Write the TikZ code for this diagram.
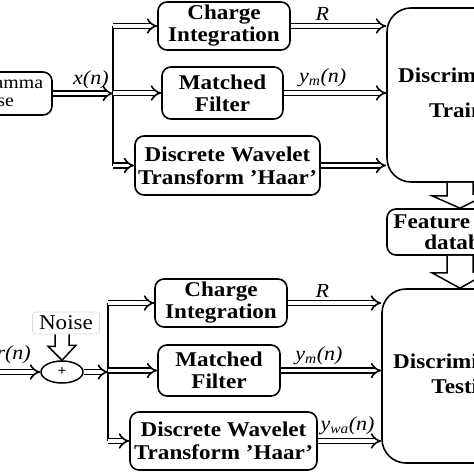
\documentclass[tikz,border=0pt]{standalone}
\usepackage{fontspec}
\setmainfont{Liberation Serif}[FakeStretch=1.1]
\usepackage{tikz}
\usetikzlibrary{positioning, calc, arrows.meta, shapes.geometric}

\tikzset{
    blk/.style={draw, line width=1.6pt, rounded corners=9pt, align=center, inner sep=0pt, font=\fontsize{21}{22}\selectfont\bfseries},
    bigblk/.style={blk, rounded corners=24pt},
    dbl/.style={double, double distance=3.6pt, line width=1.6pt, -{Implies[length=7pt, width=15pt]}},
    lbl/.style={inner sep=1pt, font=\fontsize{20}{22}\selectfont\itshape},
    bus/.style={line width=1.8pt},
    fat/.style={line width=1.5pt, fill=white, line join=miter},
}

\begin{document}
\begin{tikzpicture}[x=1pt, y=-1pt]
    \useasboundingbox (0,0) rectangle (474,474);
    \clip (0,0) rectangle (474,474);

    % upper chain: training
    \node[blk, font=\fontsize{18}{18}\selectfont, minimum width=152pt, minimum height=43pt] (src) at (-24,93.5) {Neutron-Gamma\\Response};
    \node[blk, minimum width=132pt, minimum height=48pt] (ci1) at (224,26) {Charge\\Integration};
    \node[blk, minimum width=121pt, minimum height=52pt] (mf1) at (222.5,93) {Matched\\Filter};
    \node[blk, minimum width=185pt, minimum height=59pt, font=\fontsize{21}{23}\selectfont\bfseries] (dwt1) at (227.5,165.5) {Discrete Wavelet\\Transform 'Haar'};
    \node[bigblk, minimum width=170pt, minimum height=174pt, font=\fontsize{21}{35}\selectfont\bfseries] (train) at (472,95) {Discrimination\\Training};
    \node[blk, minimum width=162pt, minimum height=46pt, font=\fontsize{21}{21}\selectfont\bfseries] (feat) at (468,232) {Feature matrix\\database};

    \coordinate (j1) at (113,93.5);
    \draw[dbl] (src.east |- j1) -- (j1) node[lbl, midway, above=3pt, xshift=8pt] {x(n)};
    \draw[bus] (j1 |- ci1) -- (j1 |- dwt1);
    \draw[dbl] (j1 |- ci1) -- (ci1.west);
    \draw[dbl] (j1 |- mf1) -- (mf1.west);
    \draw[dbl] (j1 |- dwt1) -- (dwt1.west);

    \draw[dbl] (ci1.east) -- (ci1.east -| train.west) node[lbl, pos=0.33, above=4pt] {R};
    \draw[dbl] (mf1.east) -- (mf1.east -| train.west) node[lbl, pos=0.38, above=4pt] {y\textsubscript{m}(n)};
    \draw[dbl] (dwt1.east) -- (dwt1.east -| train.west);

    % hollow arrows down the right column
    \draw[fat] ($(train.south)+(-25,0)$) -- ++(0,13) -- ++(-15,0) -- ($(feat.north)+(-8,0)$) -- ++(28,-14) -- ++(-15,0) -- ($(train.south)+(1,0)$);

    % lower chain: testing
    \node[draw=gray!30, line width=0.6pt, rounded corners=3pt, inner sep=0pt, minimum width=67pt, minimum height=22pt, font=\fontsize{21}{22}\selectfont] (noise) at (66,323) {Noise};
    \node[ellipse, draw, line width=1.5pt, minimum width=42pt, minimum height=22pt, inner sep=0pt, font=\fontsize{14}{14}\selectfont\bfseries] (sum) at (62,372) {+};
    \node[blk, minimum width=132pt, minimum height=48pt] (ci2) at (221,303) {Charge\\Integration};
    \node[blk, minimum width=122pt, minimum height=51pt] (mf2) at (219,370.5) {Matched\\Filter};
    \node[blk, minimum width=187pt, minimum height=58pt, font=\fontsize{21}{23}\selectfont\bfseries] (dwt2) at (223.5,441) {Discrete Wavelet\\Transform 'Haar'};
    \node[bigblk, minimum width=170pt, minimum height=174pt, font=\fontsize{21}{25}\selectfont\bfseries] (test) at (467,376) {Discrimination\\Testing};

    \draw[fat] ($(noise.south -| sum.north)+(-7,0)$) -- ++(0,12) -- ++(-7,0) -- (sum.north) -- ++(14,-15) -- ++(-7,0) -- ($(noise.south -| sum.north)+(7,0)$);
    \draw[fat] ($(feat.south)+(-21,0)$) -- ++(0,17) -- ++(-15,0) -- ($(test.north)+(-7,0)$) -- ++(28,-16) -- ++(-15,0) -- ($(feat.south)+(5,0)$);

    \coordinate (in) at (-4,372);
    \coordinate (j2) at (108,372);
    \draw[dbl] (in) -- (sum.west) node[lbl, pos=0.4, above=6pt] {r(n)};
    \draw[dbl] (sum.east) -- (j2);
    \draw[bus] (j2 |- ci2) -- (j2 |- dwt2);
    \draw[dbl] (j2 |- ci2) -- (ci2.west);
    \draw[dbl] (j2 |- mf2) -- (mf2.west);
    \draw[dbl] (j2 |- dwt2) -- (dwt2.west);

    \draw[dbl] (ci2.east) -- (ci2.east -| test.west) node[lbl, pos=0.37, above=4pt] {R};
    \draw[dbl] (mf2.east) -- (mf2.east -| test.west) node[lbl, pos=0.38, above=4pt] {y\textsubscript{m}(n)};
    \draw[dbl] (dwt2.east) -- (dwt2.east -| test.west) node[lbl, pos=0.47, above=4pt] {y\textsubscript{wa}(n)};
\end{tikzpicture}
\end{document}
